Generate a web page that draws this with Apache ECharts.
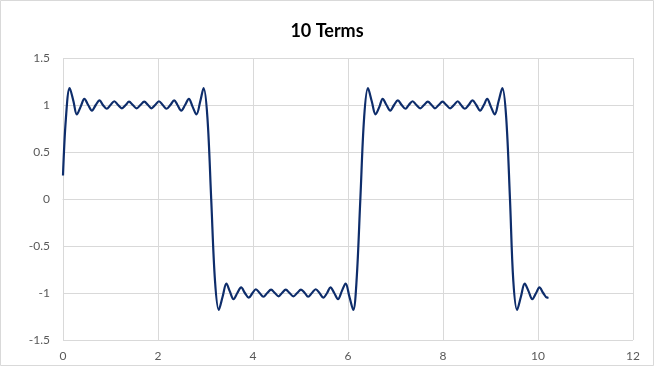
<!DOCTYPE html>
<html>
<head>
<meta charset="utf-8">
<script src="https://cdn.jsdelivr.net/npm/echarts@6/dist/echarts.min.js"></script>
<style>
html,body{margin:0;padding:0;background:#fff;}
#chart{width:654px;height:366px;}
</style>
</head>
<body>
<div id="chart"></div>
<script>
const chartTitle = '10 Terms';
const xTicks = [0, 2, 4, 6, 8, 10, 12];
const yTicks = [-1.5, -1, -0.5, 0, 0.5, 1, 1.5];

// x positions
const xValues = [
  0.00, 0.06, 0.14, 0.22, 0.29, 0.37, 0.45, 0.53, 0.61, 0.69,
  0.77, 0.84, 0.92, 1.00, 1.08, 1.16, 1.24, 1.32, 1.39, 1.47,
  1.55, 1.63, 1.71, 1.79, 1.86, 1.94, 2.02, 2.10, 2.18, 2.26,
  2.34, 2.41, 2.49, 2.57, 2.65, 2.73, 2.81, 2.89, 2.96, 3.04,
  3.12, 3.20, 3.28, 3.36, 3.44, 3.51, 3.59, 3.67, 3.75, 3.83,
  3.91, 3.99, 4.06, 4.14, 4.22, 4.30, 4.38, 4.46, 4.54, 4.61,
  4.69, 4.77, 4.85, 4.93, 5.01, 5.09, 5.16, 5.24, 5.32, 5.40,
  5.48, 5.56, 5.63, 5.71, 5.79, 5.87, 5.95, 6.03, 6.11, 6.18,
  6.26, 6.34, 6.42, 6.50, 6.58, 6.66, 6.73, 6.81, 6.89, 6.97,
  7.05, 7.13, 7.21, 7.28, 7.36, 7.44, 7.52, 7.60, 7.68, 7.76,
  7.83, 7.91, 7.99, 8.07, 8.15, 8.23, 8.31, 8.38, 8.46, 8.54,
  8.62, 8.70, 8.78, 8.86, 8.93, 9.01, 9.09, 9.17, 9.25, 9.33,
  9.41, 9.48, 9.56, 9.64, 9.72, 9.80, 9.88, 9.96, 10.03, 10.11,
  10.19, 10.22
];
// y values
const yValues = [
  0.25, 0.85, 1.18, 1.04, 0.90, 0.98, 1.066, 1.00, 0.94, 1.00,
  1.05, 1.00, 0.96, 1.00, 1.04, 1.00, 0.965, 1.00, 1.035, 1.00,
  0.965, 1.00, 1.035, 1.00, 0.965, 1.00, 1.04, 1.00, 0.96, 1.00,
  1.05, 1.00, 0.94, 1.00, 1.066, 0.98, 0.90, 1.04, 1.18, 0.87,
  0.00, -0.87, -1.18, -1.04, -0.90, -0.98, -1.066, -1.00, -0.94, -1.00,
  -1.05, -1.00, -0.96, -1.00, -1.04, -1.00, -0.965, -1.00, -1.035, -1.00,
  -0.965, -1.00, -1.035, -1.00, -0.965, -1.00, -1.04, -1.00, -0.96, -1.00,
  -1.05, -1.00, -0.94, -1.00, -1.066, -0.98, -0.90, -1.04, -1.18, -0.87,
  0.00, 0.87, 1.18, 1.04, 0.90, 0.98, 1.066, 1.00, 0.94, 1.00,
  1.05, 1.00, 0.96, 1.00, 1.04, 1.00, 0.965, 1.00, 1.035, 1.00,
  0.965, 1.00, 1.035, 1.00, 0.965, 1.00, 1.04, 1.00, 0.96, 1.00,
  1.05, 1.00, 0.94, 1.00, 1.066, 0.98, 0.90, 1.04, 1.18, 0.87,
  0.00, -0.87, -1.18, -1.04, -0.90, -0.98, -1.066, -1.00, -0.94, -1.00,
  -1.05, -1.045
];

const seriesData = xValues.map((x, i) => [x, yValues[i]]);

const chart = echarts.init(document.getElementById('chart'), null, {renderer: 'canvas'});
const labelStyle = {color: '#595959', fontSize: 12, fontFamily: 'Lato, "Liberation Sans", sans-serif'};
chart.setOption({
  animation: false,
  backgroundColor: '#ffffff',
  title: {
    text: chartTitle,
    left: 'center',
    top: 17,
    textStyle: {fontSize: 18, fontWeight: 'bold', color: '#000000', fontFamily: 'Lato, "Liberation Sans", sans-serif'}
  },
  graphic: [{
    type: 'rect',
    shape: {x: 0.5, y: 0.5, width: 653, height: 365},
    style: {fill: 'none', stroke: '#d9d9d9', lineWidth: 1},
    silent: true
  }],
  grid: {left: 63, right: 21, top: 58, bottom: 26, containLabel: false},
  xAxis: {
    type: 'value',
    min: xTicks[0],
    max: xTicks[xTicks.length - 1],
    interval: xTicks[1] - xTicks[0],
    axisLine: {show: true, onZero: true, lineStyle: {color: '#d9d9d9', width: 1}},
    axisTick: {show: false},
    axisLabel: Object.assign({margin: 10}, labelStyle),
    splitLine: {show: true, lineStyle: {color: '#d9d9d9', width: 1}}
  },
  yAxis: {
    type: 'value',
    min: yTicks[0],
    max: yTicks[yTicks.length - 1],
    interval: yTicks[1] - yTicks[0],
    axisLine: {show: false},
    axisTick: {show: false},
    axisLabel: Object.assign({margin: 13}, labelStyle),
    splitLine: {show: true, lineStyle: {color: '#d9d9d9', width: 1}}
  },
  series: [{
    type: 'line',
    data: seriesData,
    showSymbol: false,
    smooth: 0.35,
    lineStyle: {color: '#0e2d6b', width: 2.2},
    z: 5
  }]
});
</script>
</body>
</html>
